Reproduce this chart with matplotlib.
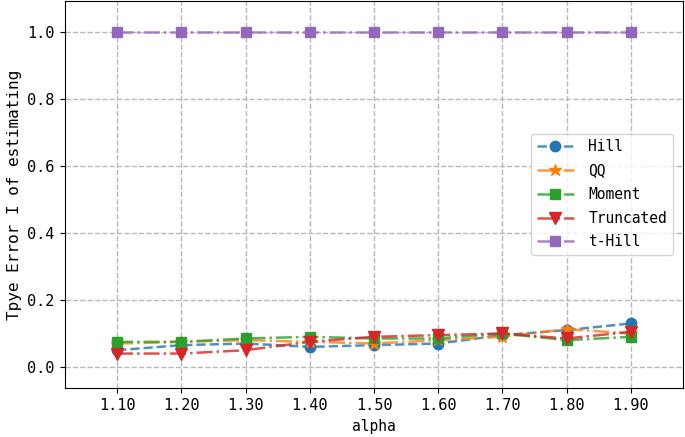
import matplotlib
matplotlib.use("Agg")
import matplotlib.pyplot as plt
from matplotlib.ticker import FormatStrFormatter
from matplotlib.colors import to_rgba

plt.rcParams['font.family'] = ['DejaVu Sans Mono']

alpha = [1.10, 1.20, 1.30, 1.40, 1.50, 1.60, 1.70, 1.80, 1.90]
hill = [0.050, 0.065, 0.070, 0.060, 0.065, 0.070, 0.095, 0.110, 0.130]
qq = [0.070, 0.075, 0.080, 0.075, 0.070, 0.080, 0.090, 0.113, 0.100]
moment = [0.075, 0.075, 0.085, 0.090, 0.085, 0.085, 0.100, 0.080, 0.090]
truncated = [0.040, 0.040, 0.050, 0.075, 0.090, 0.095, 0.100, 0.085, 0.105]
thill = [1.0, 1.0, 1.0, 1.0, 1.0, 1.0, 1.0, 1.0, 1.0]

series = [
    (hill, '--', 'o', '#1f77b4', 'Hill', 7.5),
    (qq, '-.', '*', '#ff7f0e', 'QQ', 9),
    (moment, '-.', 's', '#2ca02c', 'Moment', 7.5),
    (truncated, '-.', 'v', '#d62728', 'Truncated', 8),
    (thill, '-.', 's', '#9467bd', 't-Hill', 7.5),
]

fig = plt.figure(figsize=(6.85, 4.37), dpi=100)
ax = fig.add_axes([0.095, 0.112, 0.902, 0.886])

for vals, ls, mk, col, lab, ms in series:
    ax.plot(alpha, vals, linestyle=ls, marker=mk, color=to_rgba(col, 0.8),
            mfc=col, mec=col, lw=1.8, ms=ms, label=lab)

ax.set_xlim(1.019, 1.981)
ax.set_ylim(-0.063, 1.093)
ax.set_xticks(alpha)
ax.xaxis.set_major_formatter(FormatStrFormatter('%.2f'))
ax.set_yticks([0.0, 0.2, 0.4, 0.6, 0.8, 1.0])
ax.tick_params(labelsize=11, pad=4)
ax.grid(True, linestyle='--', color='#b8b8b8', lw=1)
ax.set_xlabel('alpha', fontsize=10.5, labelpad=4)
ax.set_ylabel('Tpye Error I of estimating', fontsize=11.5, labelpad=4)
ax.legend(loc='center right', fontsize=10.5, handlelength=2.5,
          handletextpad=1.0, labelspacing=0.6, borderaxespad=0.7)

fig.savefig('out.png', dpi=100)
